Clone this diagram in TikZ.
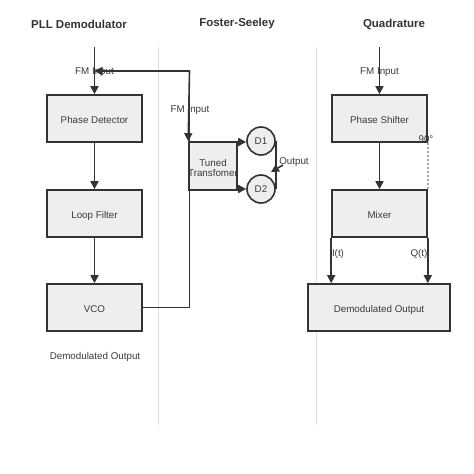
\documentclass[tikz,border=0pt]{standalone}
\usepackage{fontspec}
\setmainfont{Liberation Sans}
\usetikzlibrary{arrows.meta}
\definecolor{ink}{HTML}{333333}
\definecolor{boxfill}{HTML}{EEEEEE}
\definecolor{sep}{HTML}{DDDDDD}
\definecolor{txt}{HTML}{3A3A3A}
\tikzset{
  blk/.style={draw=ink, fill=boxfill, line width=1.6pt, minimum width=95pt, minimum height=47pt, inner sep=0pt, text=txt, text height=10pt, text depth=0pt, font=\fontsize{9.8}{11}\selectfont},
  circ/.style={circle, draw=ink, fill=boxfill, line width=1.6pt, minimum size=28pt, inner sep=0pt, text=txt, font=\fontsize{9.8}{11}\selectfont},
  conn/.style={draw=ink, line width=1.6pt, -{Triangle[length=8pt,width=8pt]}},
  plain/.style={draw=ink, line width=1.6pt},
  lbl/.style={text=txt, font=\fontsize{9.8}{11}\selectfont, inner sep=0pt},
  ttl/.style={text=ink, font=\fontsize{11.5}{13}\selectfont\bfseries, inner sep=0pt},
  sepline/.style={draw=sep, line width=1pt},
}
\begin{document}
\begin{tikzpicture}[x=1pt,y=-1pt]
\useasboundingbox (0,0) rectangle (474,474);
% titles
\node[ttl] (t1) at (79,24) {PLL Demodulator};
\node[ttl] (t2) at (237,24) {Foster-Seeley};
\node[ttl] (t3) at (394,24) {Quadrature};
% separators
\coordinate (s1a) at (158,47); \coordinate (s1b) at (158,425);
\coordinate (s2a) at (316,47); \coordinate (s2b) at (316,425);
\draw[sepline] (s1a) -- (s1b);
\draw[sepline] (s2a) -- (s2b);
% PLL
\node[blk] (pd) at (94.5,118.5) {Phase Detector};
\node[blk] (lf) at (94.5,213.5) {Loop Filter};
\node[blk] (vco) at (94.5,307.5) {VCO};
\coordinate (pin) at (94.5,47);
\draw[conn] (pin) -- (pd.north);
\node[lbl] (pinl) at (94.5,72.5) {FM Input};
\draw[conn] (pd.south) -- (lf.north);
\draw[conn] (lf.south) -- (vco.north);
\node[lbl] (pout) at (95,356.5) {Demodulated Output};
% Foster-Seeley
\node[blk, minimum width=48pt, minimum height=48pt] (tt) at (213,166) {};
\node[lbl, align=center, font=\fontsize{9.8}{10}\selectfont] (ttl) at (213,168) {Tuned\\Transfomer};
\node[circ] (d1) at (261,141) {D1};
\node[circ] (d2) at (261,189) {D2};
\coordinate (fb1) at (189.5,307.5);
\coordinate (fb2) at (189.5,71);
\coordinate (fb3) at (94.5,71);
\draw[conn] (vco.east) -- (fb1) -- (fb2) -- (fb3);
\draw[conn] (fb2) -- (tt.north west);
\node[lbl] (fin) at (190,110.5) {FM Input};
\coordinate (tto1) at (237,142);
\coordinate (tto2) at (237,189);
\draw[conn] (tto1) -- (d1.west |- tto1);
\draw[conn] (tto2) -- (d2.west |- tto2);
\draw[plain] (d1.east) -- (d2.east);
\coordinate (oa) at (283,165);
\coordinate (ob) at (271,172);
\draw[conn] (oa) -- (ob);
\node[lbl] (outl) at (294,162.5) {Output};
% Quadrature
\node[blk] (ps) at (379.5,118.5) {Phase Shifter};
\node[blk] (mx) at (379.5,213.5) {Mixer};
\node[blk, minimum width=142pt] (dm) at (379,307.5) {Demodulated Output};
\coordinate (qin) at (379.5,47);
\draw[conn] (qin) -- (ps.north);
\node[lbl] (qinl) at (379.5,72.5) {FM Input};
\draw[conn] (ps.south) -- (mx.north);
\draw[draw=gray!70, line width=1.4pt, dash pattern=on 2pt off 2pt] (ps.south east) -- (mx.north east);
\node[lbl] (deg) at (426,139) {90°};
\draw[conn] (mx.south west) -- (mx.south west |- dm.north);
\draw[conn] (mx.south east) -- (mx.south east |- dm.north);
\node[lbl] (it) at (338,253.5) {I(t)};
\node[lbl] (qt) at (419,253.5) {Q(t)};
\end{tikzpicture}
\end{document}
